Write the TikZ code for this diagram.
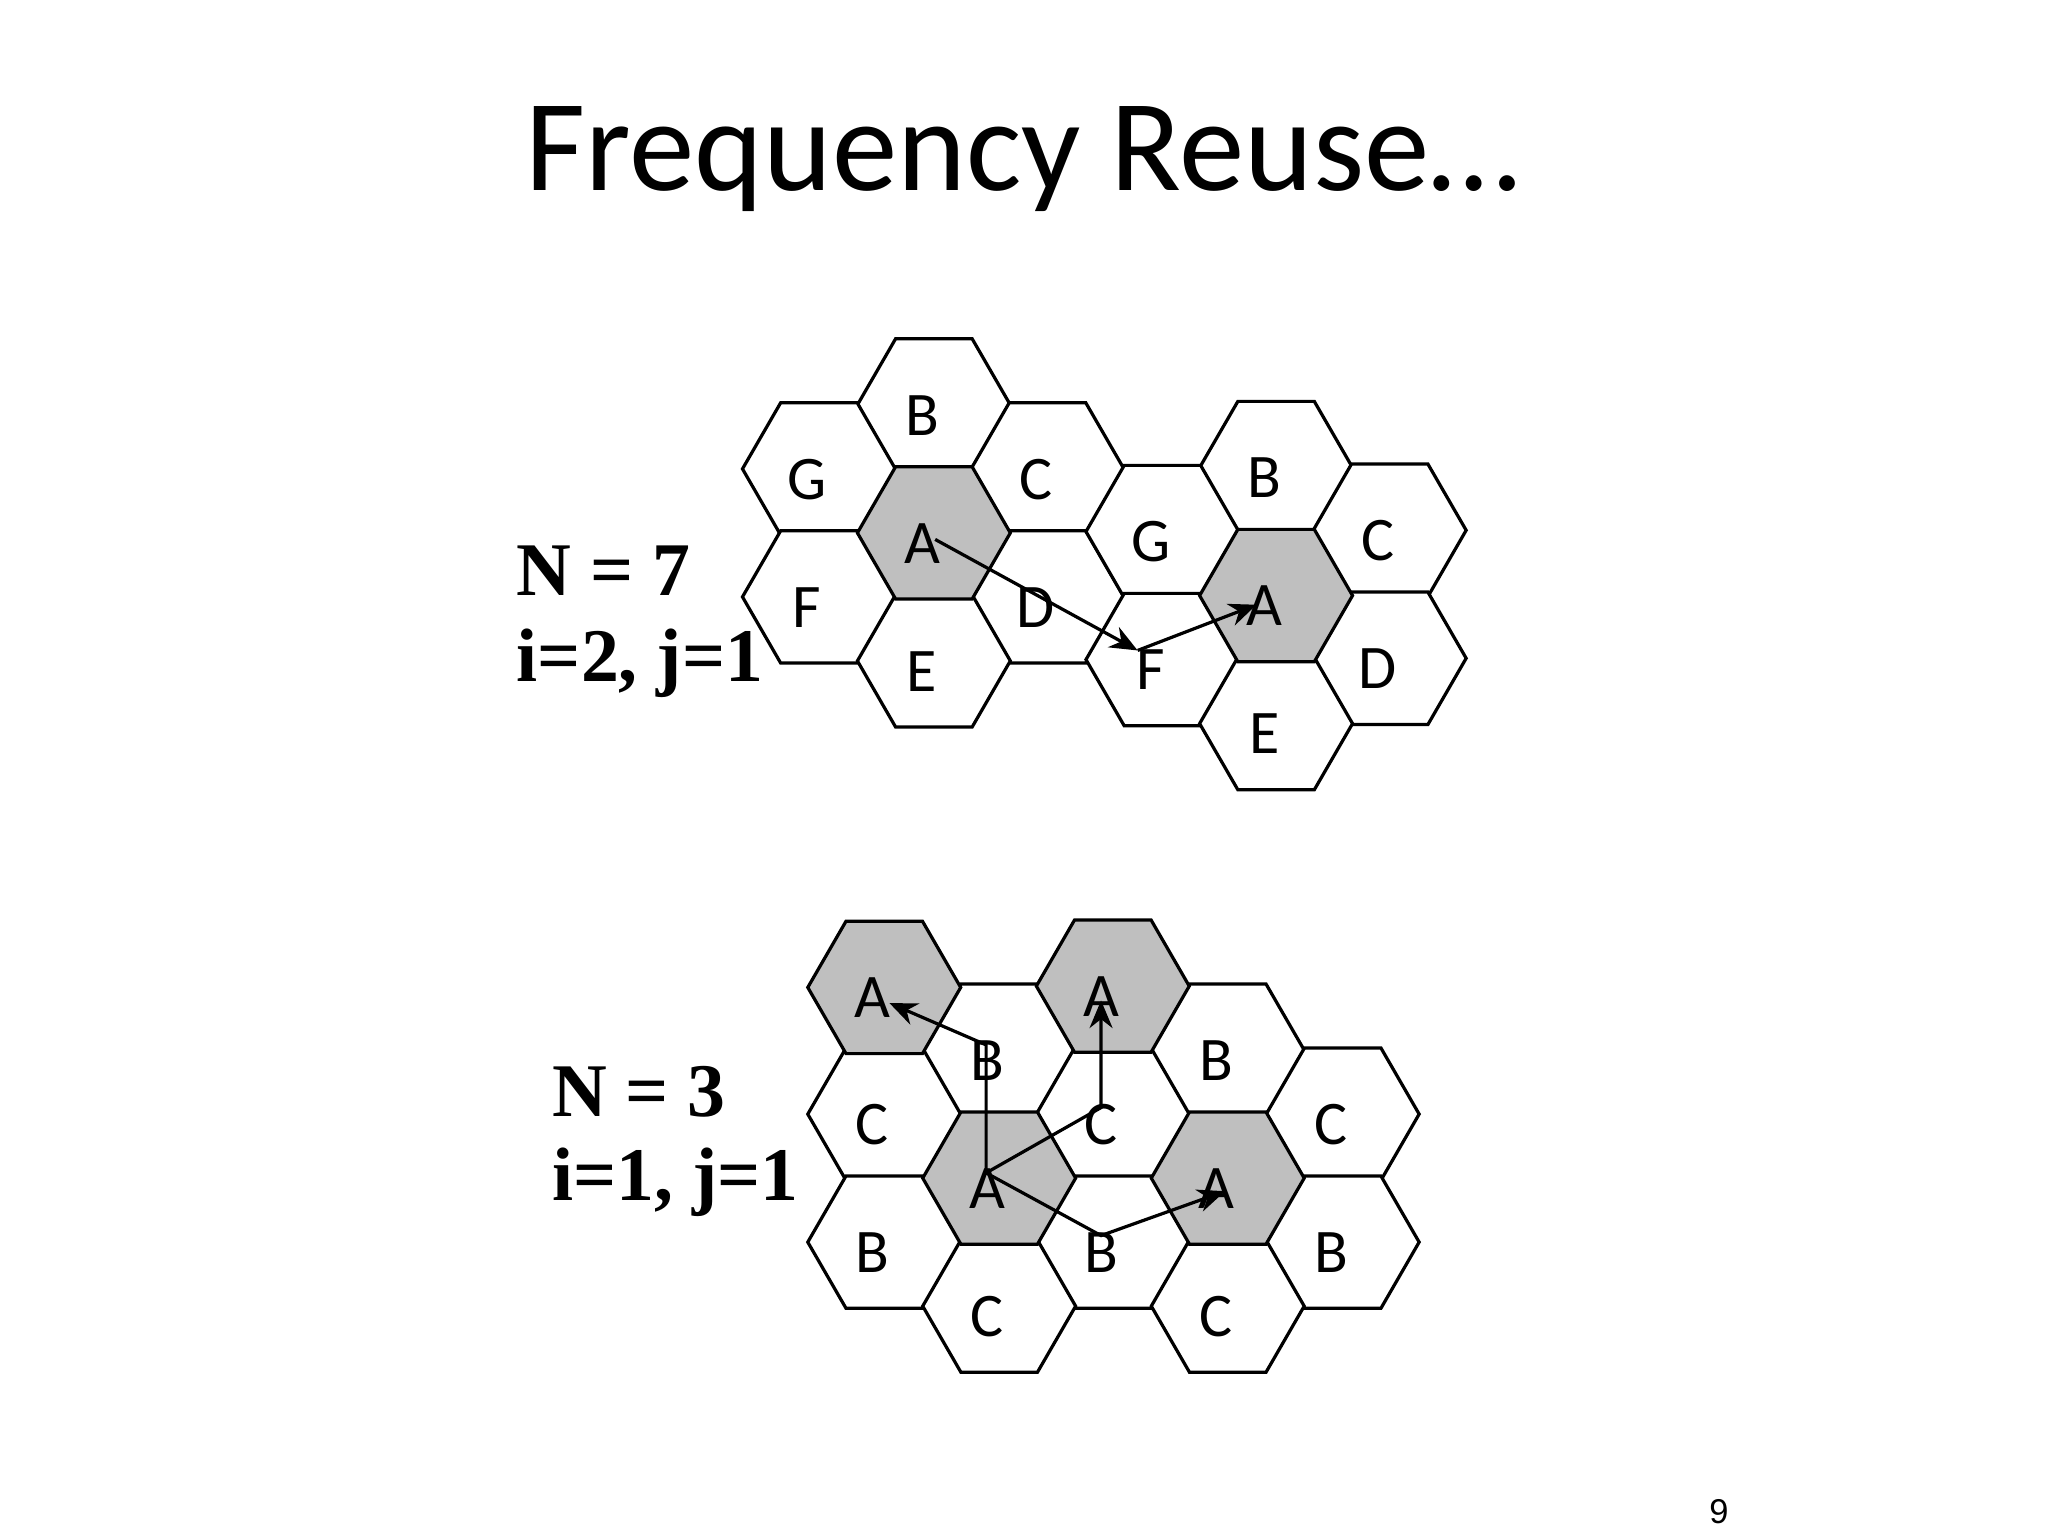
\documentclass[tikz,border=0pt]{standalone}
\usepackage{fontspec}
\setmainfont{Liberation Serif}
\newfontfamily\carlitofont{Carlito}
\newfontfamily\arialfont{Liberation Sans}
\usetikzlibrary{shapes.geometric,arrows.meta}
\begin{document}
\begin{tikzpicture}[x=0.01cm,y=-0.01cm,
  hex/.style={regular polygon,regular polygon sides=6,draw,line width=0.7pt,inner sep=0pt,minimum size=1.17cm,fill=white},
  hexA/.style={hex,fill=black!25},
  lab/.style={font=\carlitofont\fontsize{13.5}{15}\selectfont,inner sep=0pt},
  big/.style={font=\bfseries\fontsize{16.5}{19}\selectfont,anchor=west,inner sep=0pt},
  arr/.style={-{Stealth[length=6pt,width=5pt]},line width=0.7pt}]
\useasboundingbox (0,0) rectangle (1568,1176);
\node[font=\carlitofont\fontsize{28.5}{32}\selectfont] (title) at (783,122) {Frequency Reuse…};
% top clusters
\foreach \n/\x/\y/\t in {tB/715/310/B,tG/627/359/G,tC/802/359/C,tF/627/457/F,tD/802/457/D,tE/715/506/E,
  uB/977/358/B,uG/890/407/G,uC/1064/406/C,uF/890/505/F,uD/1064/504/D,uE/977/554/E}
  {\node[hex] (\n) at (\x,\y) {}; \node[lab] (\n l) at (\x-9,\y+8) {\t};}
\foreach \n/\x/\y in {tA/715/408,uA/977/456}
  {\node[hexA] (\n) at (\x,\y) {}; \node[lab] (\n l) at (\x-9,\y+8) {A};}
\coordinate (p1) at (716,413);
\coordinate (p2) at (871,498);
\coordinate (p3) at (962,463);
\draw[arr] (p1) -- (p2);
\draw[arr] (p2) -- (p3);
\node[big] (n7) at (395,437) {N = 7};
\node[big] (ij7) at (395,508) {i=2, j=1};
% bottom
\foreach \n/\x/\y/\t in {b1/765/804/B,b2/940/804/B,b3/677/853/C,b4/852/853/C,b5/1028/853/C,
  b6/677/951/B,b7/852/951/B,b8/1028/951/B,b9/765/1000/C,b10/940/1000/C}
  {\node[hex] (\n) at (\x,\y) {}; \node[lab] (\n l) at (\x-9,\y+8) {\t};}
\foreach \n/\x/\y in {a1/677/756,a2/852/755,a3/765/902,a4/940/902}
  {\node[hexA] (\n) at (\x,\y) {}; \node[lab] (\n l) at (\x-9,\y+8) {A};}
\coordinate (q0) at (755,898);
\coordinate (q1) at (755,800);
\coordinate (q2) at (681,768);
\coordinate (q3) at (843,848);
\coordinate (q4) at (843,766);
\coordinate (q5) at (843,946);
\coordinate (q6) at (938,912);
\draw[arr] (q0) -- (q1) -- (q2);
\draw[arr] (q0) -- (q3) -- (q4);
\draw[arr] (q0) -- (q5) -- (q6);
\node[big] (n3) at (422,836) {N = 3};
\node[big] (ij3) at (422,905) {i=1, j=1};
\node[font=\arialfont\fontsize{7.5}{9}\selectfont] (pg) at (1316,1157) {9};
\end{tikzpicture}
\end{document}
